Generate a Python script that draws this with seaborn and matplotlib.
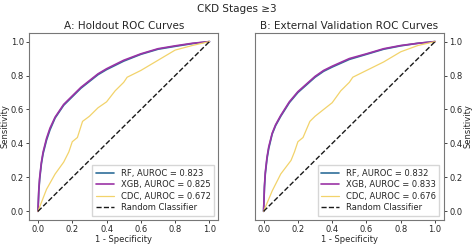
import numpy as np
import pandas as pd
import seaborn as sns
import matplotlib.pyplot as plt

sns.set_theme(style="ticks")
plt.rcParams['font.family'] = ['DejaVu Sans']

# ROC curves (FPR -> TPR)
fpr_a = [0, 0.005, 0.01, 0.02, 0.03, 0.05, 0.07, 0.1, 0.15, 0.2, 0.25, 0.3, 0.35, 0.4, 0.5, 0.6, 0.7, 0.8, 0.9, 1.0]
rf_a = [0, 0.12, 0.19, 0.28, 0.34, 0.42, 0.48, 0.55, 0.625, 0.675, 0.725, 0.765, 0.805, 0.835, 0.885, 0.925, 0.955, 0.972, 0.988, 1.0]
xgb_a = [0, 0.13, 0.2, 0.29, 0.35, 0.43, 0.49, 0.555, 0.63, 0.68, 0.73, 0.77, 0.81, 0.84, 0.89, 0.928, 0.958, 0.975, 0.99, 1.0]
cdc_fpr_a = [0, 0.05, 0.1, 0.15, 0.18, 0.2, 0.23, 0.26, 0.3, 0.35, 0.4, 0.45, 0.5, 0.52, 0.6, 0.7, 0.75, 0.8, 0.9, 1.0]
cdc_a = [0, 0.13, 0.22, 0.29, 0.35, 0.41, 0.435, 0.53, 0.56, 0.61, 0.645, 0.71, 0.76, 0.79, 0.83, 0.89, 0.92, 0.95, 0.977, 1.0]

fpr_b = [0, 0.005, 0.01, 0.02, 0.03, 0.05, 0.07, 0.1, 0.15, 0.2, 0.25, 0.3, 0.35, 0.4, 0.5, 0.6, 0.7, 0.8, 0.9, 1.0]
rf_b = [0, 0.14, 0.22, 0.31, 0.37, 0.455, 0.505, 0.56, 0.64, 0.7, 0.745, 0.79, 0.825, 0.85, 0.895, 0.925, 0.955, 0.975, 0.99, 1.0]
xgb_b = [0, 0.15, 0.23, 0.32, 0.38, 0.46, 0.51, 0.565, 0.645, 0.705, 0.75, 0.795, 0.83, 0.855, 0.9, 0.928, 0.958, 0.977, 0.99, 1.0]
cdc_fpr_b = [0, 0.05, 0.1, 0.16, 0.18, 0.2, 0.23, 0.27, 0.3, 0.35, 0.4, 0.45, 0.5, 0.52, 0.6, 0.7, 0.75, 0.8, 0.9, 1.0]
cdc_b = [0, 0.12, 0.22, 0.3, 0.35, 0.41, 0.435, 0.53, 0.56, 0.6, 0.64, 0.71, 0.76, 0.79, 0.83, 0.88, 0.91, 0.94, 0.977, 1.0]

auc_a = [0.823, 0.825, 0.672]
auc_b = [0.832, 0.833, 0.676]
titles = ["A: Holdout ROC Curves", "B: External Validation ROC Curves"]
colors = ['#2f6e9a', '#9b33a6', '#f2d36b']

fig = plt.figure(figsize=(4.74, 2.47), dpi=100)
ax1 = fig.add_axes([0.062, 0.11, 0.398, 0.756])
ax2 = fig.add_axes([0.538, 0.11, 0.398, 0.756])

panels = [
    (ax1, fpr_a, rf_a, xgb_a, cdc_fpr_a, cdc_a, auc_a),
    (ax2, fpr_b, rf_b, xgb_b, cdc_fpr_b, cdc_b, auc_b),
]

for i, (ax, fpr, rf, xgb, cfpr, cdc, auc) in enumerate(panels):
    sns.lineplot(x=fpr, y=rf, ax=ax, color=colors[0], lw=1.2, label=f"RF, AUROC = {auc[0]:.3f}")
    sns.lineplot(x=fpr, y=xgb, ax=ax, color=colors[1], lw=1.2, label=f"XGB, AUROC = {auc[1]:.3f}")
    sns.lineplot(x=cfpr, y=cdc, ax=ax, color=colors[2], lw=0.9, label=f"CDC, AUROC = {auc[2]:.3f}")
    ax.plot([0, 1], [0, 1], 'k--', lw=1.0, label="Random Classifier")
    ax.set_xlim(-0.05, 1.05)
    ax.set_ylim(-0.05, 1.05)
    ax.set_xticks([0, 0.2, 0.4, 0.6, 0.8, 1.0])
    ax.set_yticks([0, 0.2, 0.4, 0.6, 0.8, 1.0])
    ax.tick_params(labelsize=6, length=2.5, width=0.6, pad=1.5)
    ax.set_xlabel("1 - Specificity", fontsize=6, labelpad=0.5)
    ax.set_ylabel("Sensitivity", fontsize=6, labelpad=1)
    ax.set_title(titles[i], fontsize=7.5, pad=3)
    for s in ax.spines.values():
        s.set_color('#777777')
        s.set_linewidth(0.8)
    ax.legend(loc='lower right', fontsize=6, frameon=True, handlelength=2.2,
              borderpad=0.4, labelspacing=0.3, fancybox=False, edgecolor='#cccccc')

ax2.yaxis.tick_right()
ax2.yaxis.set_label_position("right")

fig.suptitle("CKD Stages \u22653", fontsize=7.5, y=0.985)
fig.savefig("out.png", dpi=100)
